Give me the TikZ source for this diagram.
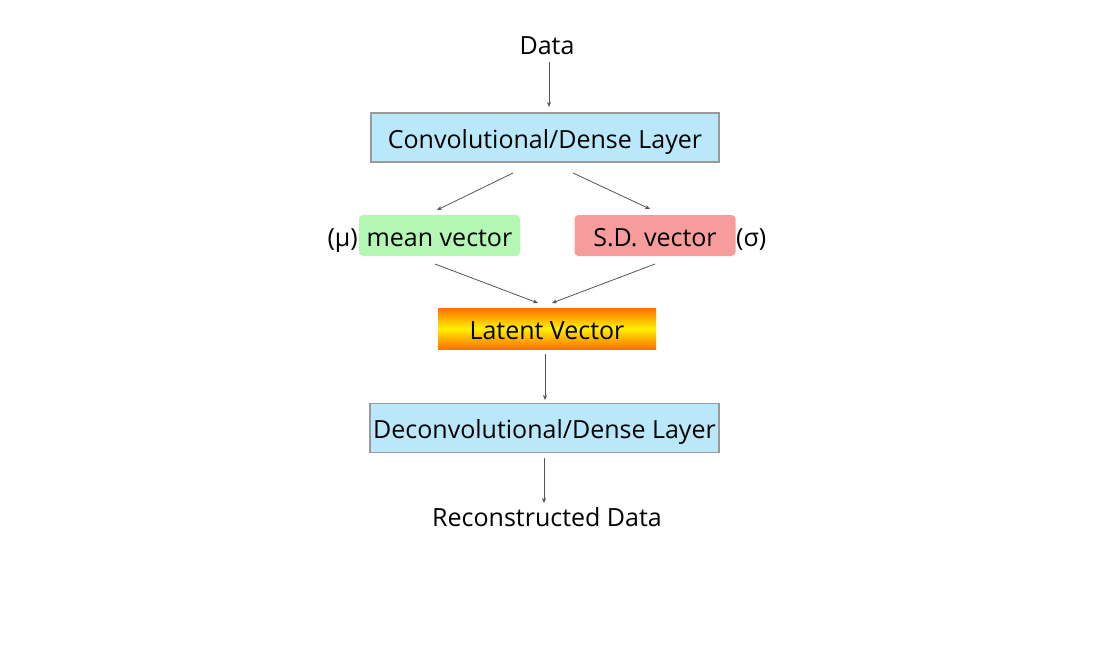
\documentclass[tikz,border=0pt]{standalone}
\usepackage{fontspec}
\setmainfont{Open Sans}
\usetikzlibrary{arrows.meta}
\definecolor{boxblue}{HTML}{B8E8FA}
\definecolor{boxgreen}{HTML}{B4F7B4}
\definecolor{boxred}{HTML}{F79C9C}
\definecolor{lineg}{HTML}{555555}
\definecolor{borderg}{HTML}{9A9A9A}
\definecolor{latorange}{HTML}{FF7000}
\definecolor{latyellow}{HTML}{FFF000}
\begin{document}
\begin{tikzpicture}[x=1pt,y=-1pt,
  lbl/.style={font=\fontsize{25}{28}\selectfont, text=black, inner sep=0pt, text height=21pt, text depth=0pt},
  layer/.style={lbl, draw=borderg, line width=1.2pt, fill=boxblue, minimum height=49pt},
  vec/.style={lbl, rounded corners=4pt, minimum width=161pt, minimum height=41pt},
  conn/.style={draw=lineg, line width=0.8pt, -{Stealth[length=5pt,width=4pt]}}]
\useasboundingbox (0,0) rectangle (1104,657);
\fill[white] (0,0) rectangle (1104,657);
\node[lbl] (data) at (547,44) {Data};
\node[layer, minimum width=348pt] (conv) at (545,137.5) {Convolutional/Dense Layer};
\node[vec, fill=boxgreen] (mean) at (439.5,235.5) {mean vector};
\node[vec, fill=boxred] (sd) at (655,235.5) {S.D. vector};
\node[lbl, anchor=east] (mu) at (358,236) {(μ)};
\node[lbl, anchor=west] (sigma) at (736,236) {(σ)};
\node[lbl, minimum width=218pt, minimum height=41pt, top color=latorange, bottom color=latorange, middle color=latyellow] (lat) at (547,328.5) {Latent Vector};
\node[layer, minimum width=349pt] (deconv) at (544.5,428) {Deconvolutional/Dense Layer};
\node[lbl] (recon) at (547,516) {Reconstructed Data};
\coordinate (a1) at (549,62);
\coordinate (a2) at (549,107);
\coordinate (b1) at (513,173);
\coordinate (b2) at (437,210);
\coordinate (c1) at (573,173);
\coordinate (c2) at (650,209);
\coordinate (d1) at (435,264);
\coordinate (d2) at (538,303);
\coordinate (e1) at (655,264);
\coordinate (e2) at (552,303);
\coordinate (f1) at (545,354);
\coordinate (f2) at (545,400);
\coordinate (g1) at (544,458);
\coordinate (g2) at (544,503);
\draw[conn] (a1) -- (a2);
\draw[conn] (b1) -- (b2);
\draw[conn] (c1) -- (c2);
\draw[conn] (d1) -- (d2);
\draw[conn] (e1) -- (e2);
\draw[conn] (f1) -- (f2);
\draw[conn] (g1) -- (g2);
\end{tikzpicture}
\end{document}
